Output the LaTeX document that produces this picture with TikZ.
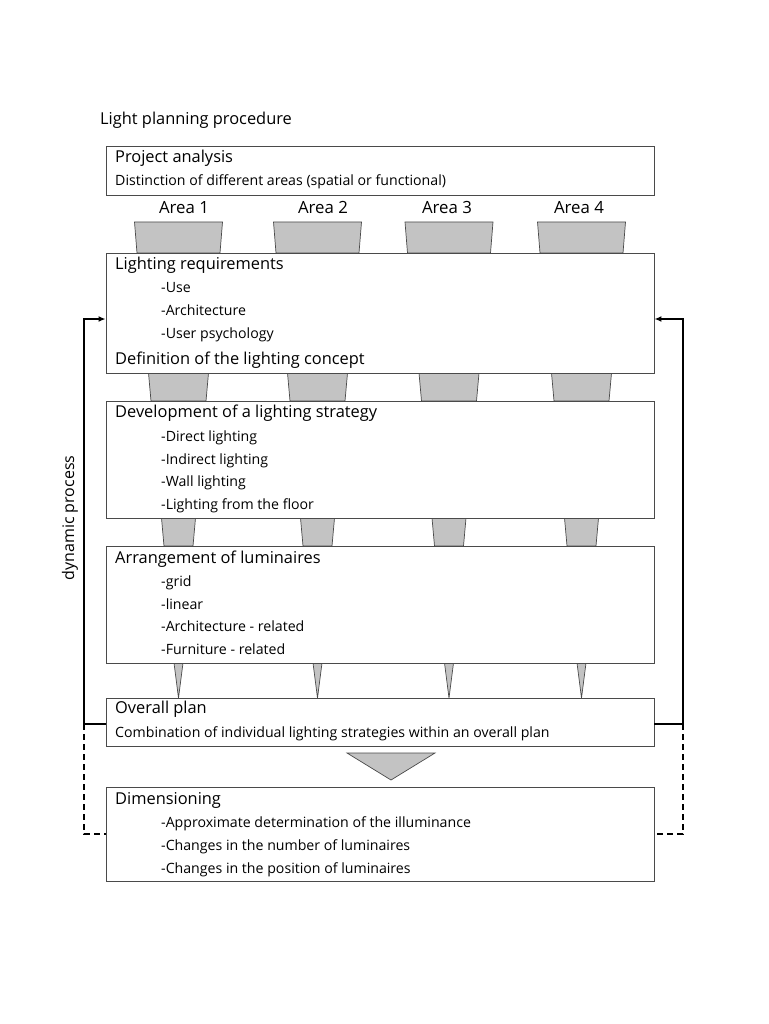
\documentclass[tikz,border=0pt]{standalone}
\usepackage{fontspec}
\setmainfont{Open Sans}
\usetikzlibrary{arrows.meta}
\definecolor{boxline}{HTML}{4A4A4A}
\definecolor{trapfill}{HTML}{C3C3C3}
\tikzset{
  box/.style={draw=boxline, line width=0.9pt, fill=white, minimum width=548pt, inner sep=0pt},
  head/.style={anchor=base west, inner sep=0pt, font=\fontsize{16.4}{18}\selectfont},
  area/.style={anchor=base, inner sep=0pt, font=\fontsize{16.8}{18}\selectfont},
  sub/.style={anchor=base west, inner sep=0pt, font=\fontsize{14.15}{16}\selectfont},
  trap/.style={fill=trapfill, draw=boxline, line width=0.7pt},
  fb/.style={line width=1.4pt, black},
  fbarrow/.style={fb, -{Latex[length=7pt,width=6pt]}},
  fbdash/.style={line width=1.3pt, black, dash pattern=on 6pt off 4pt}
}
\begin{document}
\begin{tikzpicture}[x=1pt,y=-1pt]
\useasboundingbox (0,0) rectangle (768,1024);
% trapezoids
\foreach \c in {178.5,317.5,449,581.5}{
  \filldraw[trap] (\c-44,222) -- (\c+44,222) -- (\c+41.5,253) -- (\c-41.5,253) -- cycle;
  \filldraw[trap] (\c-30,373) -- (\c+30,373) -- (\c+27.5,401) -- (\c-27.5,401) -- cycle;
  \filldraw[trap] (\c-17,518) -- (\c+17,518) -- (\c+14.5,546) -- (\c-14.5,546) -- cycle;
  \filldraw[trap] (\c-4.5,663) -- (\c+4.5,663) -- (\c,698) -- cycle;
}
\filldraw[trap] (347,753) -- (435,753) -- (391,780) -- cycle;
% boxes
\node[box, minimum height=49pt] (b1) at (380,170.5) {};
\node[box, minimum height=120pt] (b2) at (380,313) {};
\node[box, minimum height=117pt] (b3) at (380,459.5) {};
\node[box, minimum height=117pt] (b4) at (380,604.5) {};
\node[box, minimum height=48pt] (b5) at (380,722) {};
\node[box, minimum height=94pt] (b6) at (380,834) {};
% title
\node[head] (title) at (100,125) {Light planning procedure};
% box 1
\node[head] (t1) at (115,163) {Project analysis};
\node[sub] (t1a) at (115,186) {Distinction of different areas (spatial or functional)};
% areas
\node[area] (a1) at (184,214) {Area 1};
\node[area] (a2) at (323,214) {Area 2};
\node[area] (a3) at (447,214) {Area 3};
\node[area] (a4) at (579,214) {Area 4};
% box 2
\node[head] (t2) at (115,269) {Lighting requirements};
\node[sub] (t2a) at (161,292) {-Use};
\node[sub] (t2b) at (161,315) {-Architecture};
\node[sub] (t2c) at (161,338) {-User psychology};
\node[head] (t2d) at (115,364) {Definition of the lighting concept};
% box 3
\node[head] (t3) at (115,417) {Development of a lighting strategy};
\node[sub] (t3a) at (161,441) {-Direct lighting};
\node[sub] (t3b) at (161,464) {-Indirect lighting};
\node[sub] (t3c) at (161,486) {-Wall lighting};
\node[sub] (t3d) at (161,509) {-Lighting from the floor};
% box 4
\node[head] (t4) at (115,563) {Arrangement of luminaires};
\node[sub] (t4a) at (161,586) {-grid};
\node[sub] (t4b) at (161,609) {-linear};
\node[sub] (t4c) at (161,631) {-Architecture - related};
\node[sub] (t4d) at (161,654) {-Furniture - related};
% box 5
\node[head] (t5) at (115,713) {Overall plan};
\node[sub] (t5a) at (115,737) {Combination of individual lighting strategies within an overall plan};
% box 6
\node[head] (t6) at (115,804) {Dimensioning};
\node[sub] (t6a) at (161,827) {-Approximate determination of the illuminance};
\node[sub] (t6b) at (161,850) {-Changes in the number of luminaires};
\node[sub] (t6c) at (161,873) {-Changes in the position of luminaires};
% side label
\node[head, anchor=center, rotate=90, font=\fontsize{16}{18}\selectfont] (dyn) at (70,518) {dynamic process};
% feedback
\coordinate (lj) at (84,724);
\coordinate (rj) at (683,724);
\draw[fb] (b5.west |- lj) -- (lj);
\draw[fb] (b5.east |- rj) -- (rj);
\draw[fbarrow] (lj) -- (84,319) -- (b2.west |- 0,319);
\draw[fbarrow] (rj) -- (683,319) -- (b2.east |- 0,319);
\draw[fbdash] (lj) |- (b6.west);
\draw[fbdash] (rj) |- (b6.east);
\end{tikzpicture}
\end{document}
